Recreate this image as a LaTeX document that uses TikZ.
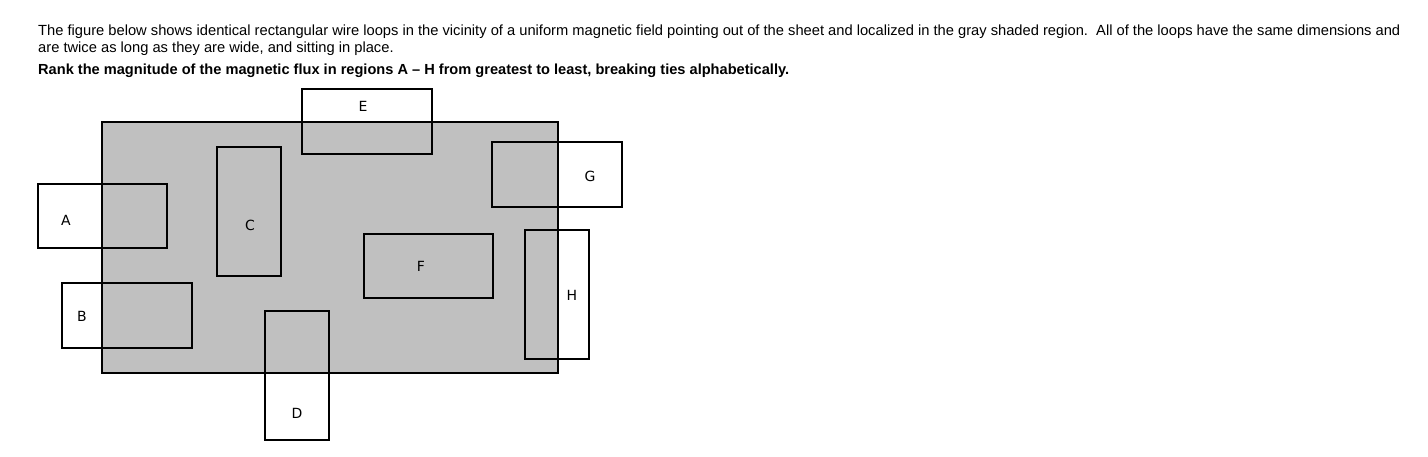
\documentclass[tikz,border=0pt]{standalone}
\usepackage{fontspec}
\setmainfont{Liberation Sans}
\newfontfamily\labfont{DejaVu Sans}
\begin{document}
\begin{tikzpicture}[x=1pt,y=-1pt,
  loop/.style={draw=black,line width=2pt},
  lab/.style={font=\labfont\fontsize{14}{16}\selectfont},
  txt/.style={anchor=base west,inner sep=0pt,font=\fontsize{14.7}{16}\selectfont}]
\useasboundingbox (0,0) rectangle (1428,456);
\fill[fill={rgb,255:red,192;green,192;blue,192},draw=black,line width=2pt] (102,122) rectangle (558,373);
\node[txt] (t1) at (38,35) {The figure below shows identical rectangular wire loops in the vicinity of a uniform magnetic field pointing out of the sheet and localized in the gray shaded region.\ \ All of the loops have the same dimensions and};
\node[txt] (t2) at (38,52) {are twice as long as they are wide, and sitting in place.};
\node[txt,font=\fontsize{14.6}{16}\selectfont\bfseries] (t3) at (38,74) {Rank the magnitude of the magnetic flux in regions A -- H from greatest to least, breaking ties alphabetically.};
\draw[loop] (302,89) rectangle (432,154);
\draw[loop] (492,142) rectangle (622,207);
\draw[loop] (38,184) rectangle (167,248);
\draw[loop] (217,147) rectangle (281,276);
\draw[loop] (364,234) rectangle (493,298);
\draw[loop] (525,230) rectangle (589,359);
\draw[loop] (62,283) rectangle (192,348);
\draw[loop] (265,311) rectangle (329,440);
\node[lab] (lE) at (363,106) {E};
\node[lab] (lG) at (590,176) {G};
\node[lab] (lA) at (66,220) {A};
\node[lab] (lC) at (250,225) {C};
\node[lab] (lF) at (421,266) {F};
\node[lab] (lH) at (572,295) {H};
\node[lab] (lB) at (82,316) {B};
\node[lab] (lD) at (297,413) {D};
\end{tikzpicture}
\end{document}
